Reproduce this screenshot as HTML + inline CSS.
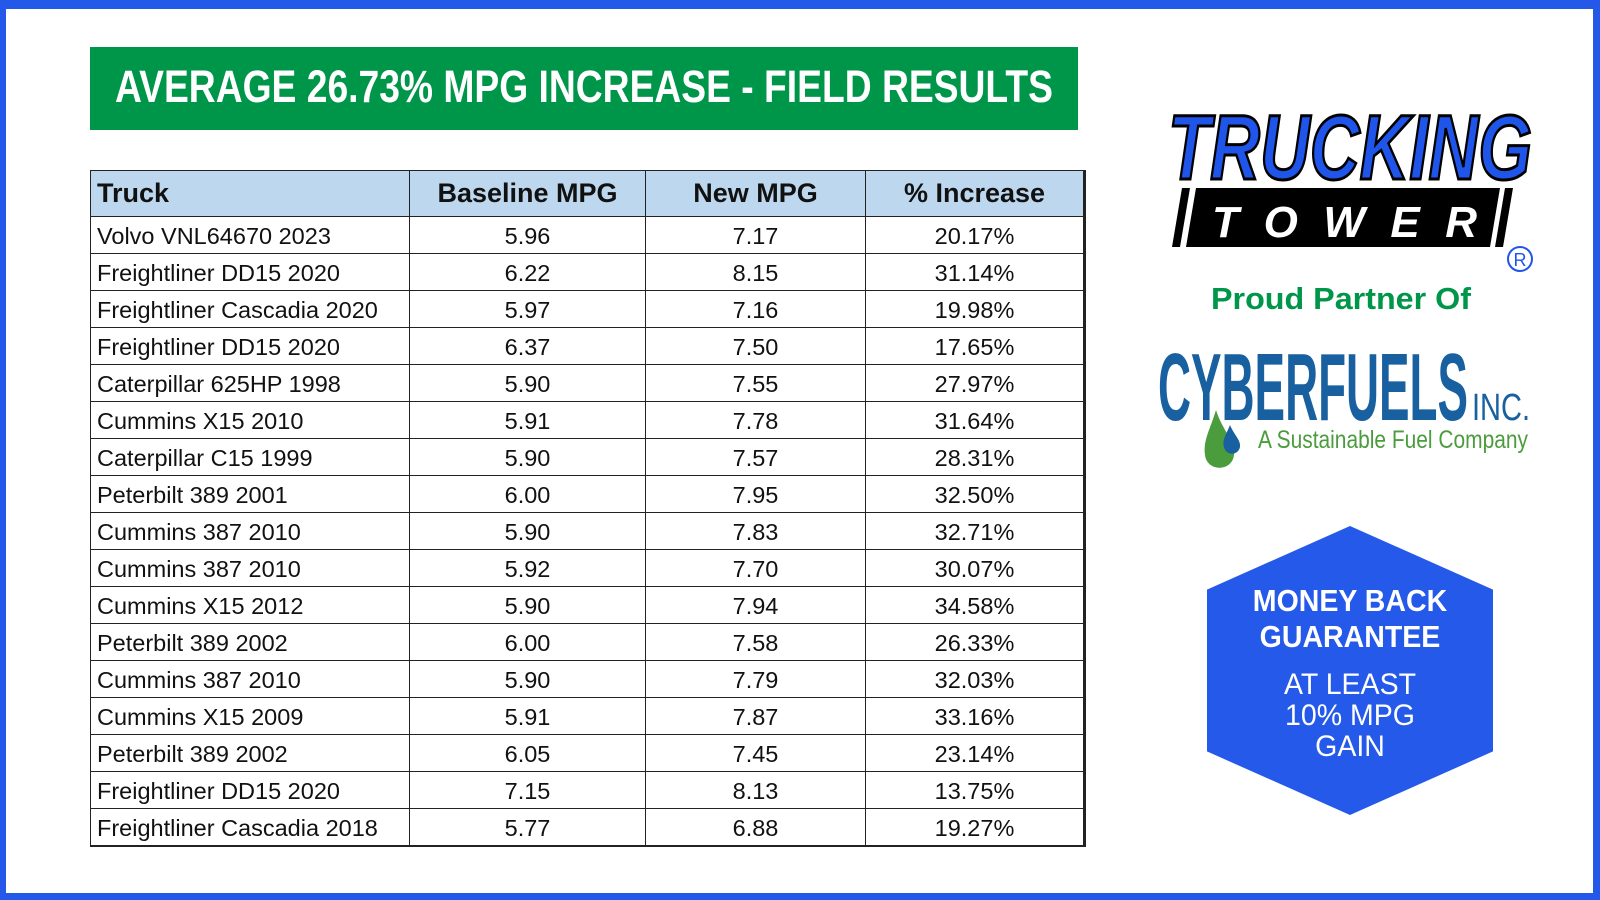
<!DOCTYPE html>
<html><head><meta charset="utf-8"><style>
body{margin:0;width:1600px;height:900px;overflow:hidden;background:#fff;font-family:"Liberation Sans",sans-serif;position:relative}
.frame{position:absolute;left:0;top:0;width:1600px;height:900px;box-sizing:border-box;border:solid #2458e8;border-width:9px 7px 7px 6px}
.banner{position:absolute;left:90px;top:47px;width:988px;height:83px;background:#00964a}
table{position:absolute;left:90px;top:170px;border-collapse:collapse;table-layout:fixed;width:994px;font-size:23.5px;color:#111;white-space:nowrap}
td,th{border:1.5px solid #222;padding:0;overflow:hidden}
th{height:45px;background:#bdd7ee;font-size:27px;font-weight:bold;text-align:center}
th:first-child,td:first-child{text-align:left;padding-left:6px}
td{text-align:center;padding-top:2px;height:34px}
table{border-right:3px solid #222;border-bottom:2px solid #222}
.hex{position:absolute;left:1207px;top:526px;width:286px;height:289px;background:#2459ea;clip-path:polygon(50% 0,100% 22%,100% 78%,50% 100%,0 78%,0 22%);color:#fff;text-align:center}
</style></head><body>
<div class="frame"></div>
<div class="banner"></div>
<table>
<colgroup><col style="width:319px"><col style="width:236px"><col style="width:220px"><col style="width:219px"></colgroup>
<tr><th>Truck</th><th>Baseline MPG</th><th>New MPG</th><th>% Increase</th></tr>
<tr><td>Volvo VNL64670 2023</td><td>5.96</td><td>7.17</td><td>20.17%</td></tr>
<tr><td>Freightliner DD15 2020</td><td>6.22</td><td>8.15</td><td>31.14%</td></tr>
<tr><td>Freightliner Cascadia 2020</td><td>5.97</td><td>7.16</td><td>19.98%</td></tr>
<tr><td>Freightliner DD15 2020</td><td>6.37</td><td>7.50</td><td>17.65%</td></tr>
<tr><td>Caterpillar 625HP 1998</td><td>5.90</td><td>7.55</td><td>27.97%</td></tr>
<tr><td>Cummins X15 2010</td><td>5.91</td><td>7.78</td><td>31.64%</td></tr>
<tr><td>Caterpillar C15 1999</td><td>5.90</td><td>7.57</td><td>28.31%</td></tr>
<tr><td>Peterbilt 389 2001</td><td>6.00</td><td>7.95</td><td>32.50%</td></tr>
<tr><td>Cummins 387 2010</td><td>5.90</td><td>7.83</td><td>32.71%</td></tr>
<tr><td>Cummins 387 2010</td><td>5.92</td><td>7.70</td><td>30.07%</td></tr>
<tr><td>Cummins X15 2012</td><td>5.90</td><td>7.94</td><td>34.58%</td></tr>
<tr><td>Peterbilt 389 2002</td><td>6.00</td><td>7.58</td><td>26.33%</td></tr>
<tr><td>Cummins 387 2010</td><td>5.90</td><td>7.79</td><td>32.03%</td></tr>
<tr><td>Cummins X15 2009</td><td>5.91</td><td>7.87</td><td>33.16%</td></tr>
<tr><td>Peterbilt 389 2002</td><td>6.05</td><td>7.45</td><td>23.14%</td></tr>
<tr><td>Freightliner DD15 2020</td><td>7.15</td><td>8.13</td><td>13.75%</td></tr>
<tr><td>Freightliner Cascadia 2018</td><td>5.77</td><td>6.88</td><td>19.27%</td></tr>
</table>

<svg style="position:absolute;left:0;top:0" width="1600" height="900">
 <text x="115" y="102" font-family="Liberation Sans" font-weight="bold" font-size="45" fill="#fff" textLength="938" lengthAdjust="spacingAndGlyphs">AVERAGE 26.73% MPG INCREASE - FIELD RESULTS</text>
 <text x="1168" y="179" font-family="Liberation Sans" font-weight="bold" font-style="italic" font-size="92" fill="#1f55e8" stroke="#000" stroke-width="3" textLength="364" lengthAdjust="spacingAndGlyphs">TRUCKING</text>
 <polygon points="1182,188 1190,188 1180,247 1172,247" fill="#000"/>
 <polygon points="1196,188 1500,188 1490,247 1186,247" fill="#000"/>
 <polygon points="1505,188 1513,188 1503,247 1495,247" fill="#000"/>
 <text x="1212" y="237" font-family="Liberation Sans" font-weight="bold" font-style="italic" font-size="44" fill="#fff" textLength="265" lengthAdjust="spacing">TOWER</text>
 <circle cx="1520" cy="259" r="12" fill="none" stroke="#1f55e8" stroke-width="2"/>
 <text x="1520" y="266" text-anchor="middle" font-family="Liberation Sans" font-size="18" fill="#1f55e8">R</text>
 <text x="1211" y="309" font-family="Liberation Sans" font-weight="bold" font-size="31" fill="#00964a" textLength="260" lengthAdjust="spacingAndGlyphs">Proud Partner Of</text>
 <text x="1158" y="420" font-family="Liberation Sans" font-weight="bold" font-size="96" fill="#18609f" textLength="310" lengthAdjust="spacingAndGlyphs">CYBERFUELS</text>
 <text x="1472" y="420" font-family="Liberation Sans" font-size="38" fill="#18609f" textLength="58" lengthAdjust="spacingAndGlyphs">INC.</text>
 <text x="1258" y="448" font-family="Liberation Sans" font-size="25" fill="#4a9c3c" textLength="270" lengthAdjust="spacingAndGlyphs">A Sustainable Fuel Company</text>
 <path d="M1216,410 C1210,430 1203,440 1205,455 C1207,472 1232,472 1234,455 C1236,442 1222,430 1216,410Z" fill="#4a9c3c"/>
 <path d="M1230,425 C1226,435 1222,440 1224,447 C1226,456 1238,456 1240,447 C1241,440 1234,435 1230,425Z" fill="#18609f"/>
</svg>

<div class="hex">
 <div style="margin-top:57px;font-weight:bold;font-size:31px;line-height:36px;transform:scaleX(0.92)">MONEY BACK<br>GUARANTEE</div>
 <div style="margin-top:14px;font-size:30px;line-height:31px;transform:scaleX(0.95)">AT LEAST<br>10% MPG<br>GAIN</div>
</div>
</body></html>
